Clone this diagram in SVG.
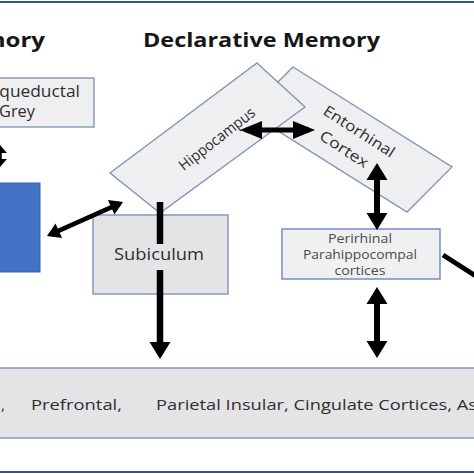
<svg xmlns="http://www.w3.org/2000/svg" width="474" height="474" viewBox="0 0 474 474">
<defs>
<style>
.t{font-family:"Open Sans",Lato,"Liberation Sans",sans-serif;fill:#2e2e2e}
.title{font-weight:bold;font-size:20px;fill:#161616}
.box{fill:#efeff1;stroke:#8497b4;stroke-width:1.4}
.dark{fill:#e4e4e6;stroke:#8e9ec0;stroke-width:1.6}
.c{stroke:#000;fill:none}
.g{fill:#4a4a4a}
</style>
<marker id="es" markerUnits="userSpaceOnUse" overflow="visible" orient="auto" refX="0" refY="0"><path d="M-9,-8 L4,0 L-9,8 z" fill="#000"/></marker>
<marker id="ss" markerUnits="userSpaceOnUse" overflow="visible" orient="auto" refX="0" refY="0"><path d="M9,-8 L-4,0 L9,8 z" fill="#000"/></marker>
<marker id="eb" markerUnits="userSpaceOnUse" overflow="visible" orient="auto" refX="0" refY="0"><path d="M-12,-10.5 L5,0 L-12,10.5 z" fill="#000"/></marker>
<marker id="sb" markerUnits="userSpaceOnUse" overflow="visible" orient="auto" refX="0" refY="0"><path d="M12,-10.5 L-5,0 L12,10.5 z" fill="#000"/></marker>
<marker id="el" markerUnits="userSpaceOnUse" overflow="visible" orient="auto" refX="0" refY="0"><path d="M-16,-9 L6,0 L-16,9 z" fill="#000"/></marker>
<marker id="sl" markerUnits="userSpaceOnUse" overflow="visible" orient="auto" refX="0" refY="0"><path d="M16,-9 L-6,0 L16,9 z" fill="#000"/></marker>
<marker id="et" markerUnits="userSpaceOnUse" overflow="visible" orient="auto" refX="0" refY="0"><path d="M-6,-7 L2,0 L-6,7 z" fill="#000"/></marker>
<marker id="st" markerUnits="userSpaceOnUse" overflow="visible" orient="auto" refX="0" refY="0"><path d="M6,-7 L-2,0 L6,7 z" fill="#000"/></marker>
</defs>
<rect x="0" y="0" width="474" height="474" fill="#ffffff"/>
<rect x="-3" y="2" width="480" height="470" fill="none" stroke="#2f5597" stroke-width="2"/>

<g id="title-left"><text class="t title" x="45" y="47" text-anchor="end" textLength="100" lengthAdjust="spacingAndGlyphs">Memory</text></g>
<g id="title-declarative"><text class="t title" x="143" y="47" textLength="237" lengthAdjust="spacingAndGlyphs">Declarative Memory</text></g>

<g id="periaqueductal">
<rect class="box" x="-10" y="78" width="104" height="49"/>
<text class="t" x="80" y="97" font-size="15.5" text-anchor="end" textLength="122" lengthAdjust="spacingAndGlyphs">Periaqueductal</text>
<text class="t" x="35" y="117" font-size="15.5" text-anchor="end" textLength="36" lengthAdjust="spacingAndGlyphs">Grey</text>
</g>

<g id="blue-node"><rect x="-5" y="183" width="45" height="89" fill="#4472c4" stroke="#3a63ad" stroke-width="1"/></g>

<g id="entorhinal">
<polygon class="box" points="293,67 452,167 407,212 248,112"/>
<g transform="translate(350,140) rotate(33)">
<text class="t" x="3" y="-7" font-size="15" text-anchor="middle" textLength="82" lengthAdjust="spacingAndGlyphs">Entorhinal</text>
<text class="t" x="0" y="16" font-size="15" text-anchor="middle" textLength="55" lengthAdjust="spacingAndGlyphs">Cortex</text>
</g>
</g>

<g id="hippocampus">
<polygon class="box" points="257,63 305,107 160,213 110,173"/>
<g transform="translate(217,139) rotate(-38)">
<text class="t" x="0" y="5" font-size="15" text-anchor="middle" textLength="92" lengthAdjust="spacingAndGlyphs">Hippocampus</text>
</g>
</g>

<g id="subiculum">
<rect class="dark" x="93" y="215" width="135" height="79"/>
<text class="t" x="159" y="260" font-size="16" text-anchor="middle" textLength="90" lengthAdjust="spacingAndGlyphs">Subiculum</text>
</g>

<g id="perirhinal">
<rect x="282" y="229" width="158" height="50" fill="#f0f0f2" stroke="#7085c0" stroke-width="1.4"/>
<text class="t g" x="360" y="243" font-size="12" text-anchor="middle" textLength="64" lengthAdjust="spacingAndGlyphs">Perirhinal</text>
<text class="t g" x="360" y="259" font-size="12" text-anchor="middle" textLength="114" lengthAdjust="spacingAndGlyphs">Parahippocompal</text>
<text class="t g" x="360" y="275" font-size="12" text-anchor="middle" textLength="51" lengthAdjust="spacingAndGlyphs">cortices</text>
</g>

<g id="cortices-bottom">
<rect class="dark" x="-5" y="368" width="484" height="70"/>
<text class="t" x="1" y="410" font-size="15">,</text>
<text class="t" x="31" y="410" font-size="15" textLength="91" lengthAdjust="spacingAndGlyphs">Prefrontal,</text>
<text class="t" x="156" y="410" font-size="15" textLength="321" lengthAdjust="spacingAndGlyphs">Parietal Insular, Cingulate Cortices, As</text>
</g>

<g id="connectors">
<line class="c" x1="0" y1="147" x2="0" y2="165" stroke-width="3.5" marker-start="url(#st)" marker-end="url(#et)"/>
<line class="c" x1="50.6" y1="234.4" x2="119.4" y2="203.6" stroke-width="4.5" marker-start="url(#ss)" marker-end="url(#es)"/>
<line class="c" x1="246" y1="130" x2="309" y2="130" stroke-width="5" marker-start="url(#sl)" marker-end="url(#el)"/>
<line class="c" x1="160" y1="202" x2="160" y2="244" stroke-width="6.5"/>
<line class="c" x1="160" y1="270" x2="160" y2="354" stroke-width="6.5" marker-end="url(#eb)"/>
<line class="c" x1="377" y1="168" x2="377" y2="225" stroke-width="6" marker-start="url(#sb)" marker-end="url(#eb)"/>
<line class="c" x1="377" y1="292" x2="377" y2="353" stroke-width="6" marker-start="url(#sb)" marker-end="url(#eb)"/>
<line class="c" x1="443" y1="255" x2="482" y2="280" stroke-width="5"/>
</g>
</svg>
